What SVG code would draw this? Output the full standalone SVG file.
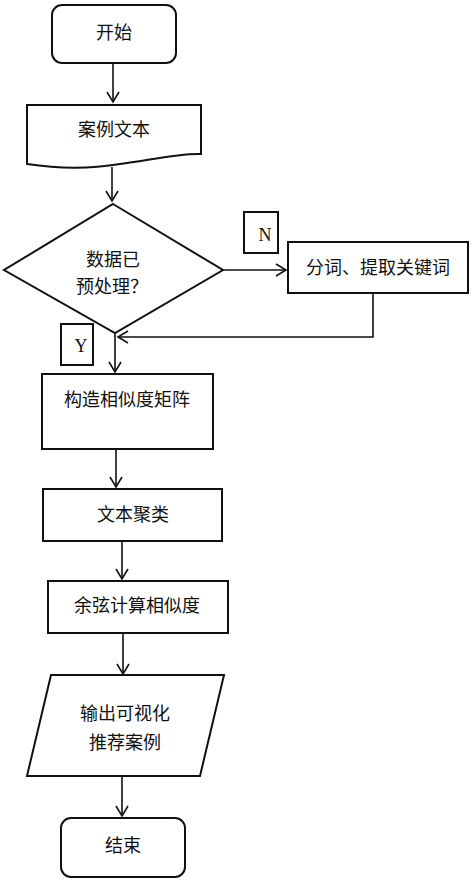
<svg xmlns="http://www.w3.org/2000/svg" width="474" height="884" viewBox="0 0 474 884">
<style>
.shape{fill:#fff;stroke:#111;stroke-width:2}
.conn{fill:none;stroke:#111;stroke-width:1.6}
.t{font-family:"Noto Sans CJK SC","Liberation Sans",sans-serif;font-size:18px;fill:#111;text-anchor:middle;dominant-baseline:central}
.lbl{font-family:"Liberation Serif",serif;font-size:18px;fill:#111;text-anchor:middle;dominant-baseline:central}
</style>
<defs>
<marker id="arr" markerUnits="userSpaceOnUse" markerWidth="14" markerHeight="16" viewBox="-12 -8 14 16" refX="0" refY="0" orient="auto" overflow="visible">
<path d="M-10,-6 L0,0 L-10,6" fill="none" stroke="#111" stroke-width="1.6"/>
</marker>
</defs>
<rect width="474" height="884" fill="#fff"/>
<g id="connectors">
<line class="conn" x1="113" y1="63" x2="113" y2="102" marker-end="url(#arr)"/>
<line class="conn" x1="112" y1="167" x2="112" y2="201" marker-end="url(#arr)"/>
<line class="conn" x1="223" y1="270" x2="286" y2="270" marker-end="url(#arr)"/>
<polyline class="conn" points="373,293 373,337 118,337" marker-end="url(#arr)"/>
<line class="conn" x1="115" y1="333" x2="115" y2="372" marker-end="url(#arr)"/>
<line class="conn" x1="116" y1="449" x2="116" y2="487" marker-end="url(#arr)"/>
<line class="conn" x1="122" y1="541" x2="122" y2="579" marker-end="url(#arr)"/>
<line class="conn" x1="123" y1="633" x2="123" y2="674" marker-end="url(#arr)"/>
<line class="conn" x1="122" y1="776" x2="122" y2="816" marker-end="url(#arr)"/>
</g>
<g id="start">
<rect class="shape" x="52" y="5" width="124" height="58" rx="10"/>
<text class="t" x="114" y="31">开始</text>
</g>
<g id="doc">
<path class="shape" d="M27,105 L201,105 L201,154 C180,153 150,160 120,164 C90,169 60,169 27,164 Z"/>
<text class="t" x="114" y="128">案例文本</text>
</g>
<g id="decision">
<polygon class="shape" points="113,204 223,270 115,333 4,270"/>
<text class="t" x="113" y="258">数据已</text>
<text class="t" x="112" y="285">预处理？</text>
</g>
<g id="labelN">
<rect class="shape" x="244" y="212" width="34" height="41"/>
<text class="lbl" x="265" y="235">N</text>
</g>
<g id="segment">
<rect class="shape" x="288" y="242" width="180" height="51"/>
<text class="t" x="378" y="266">分词、提取关键词</text>
</g>
<g id="labelY">
<rect class="shape" x="61" y="324" width="32" height="41"/>
<text class="lbl" x="81" y="346">Y</text>
</g>
<g id="matrix">
<rect class="shape" x="42" y="374" width="171" height="75"/>
<text class="t" x="127" y="398">构造相似度矩阵</text>
</g>
<g id="cluster">
<rect class="shape" x="43" y="489" width="179" height="52"/>
<text class="t" x="133" y="513">文本聚类</text>
</g>
<g id="cosine">
<rect class="shape" x="48" y="581" width="180" height="52"/>
<text class="t" x="137" y="604">余弦计算相似度</text>
</g>
<g id="output">
<polygon class="shape" points="51,675 224,675 200,776 27,776"/>
<text class="t" x="125" y="712">输出可视化</text>
<text class="t" x="125" y="741">推荐案例</text>
</g>
<g id="end">
<rect class="shape" x="61" y="818" width="124" height="59" rx="10"/>
<text class="t" x="123" y="844">结束</text>
</g>
</svg>
